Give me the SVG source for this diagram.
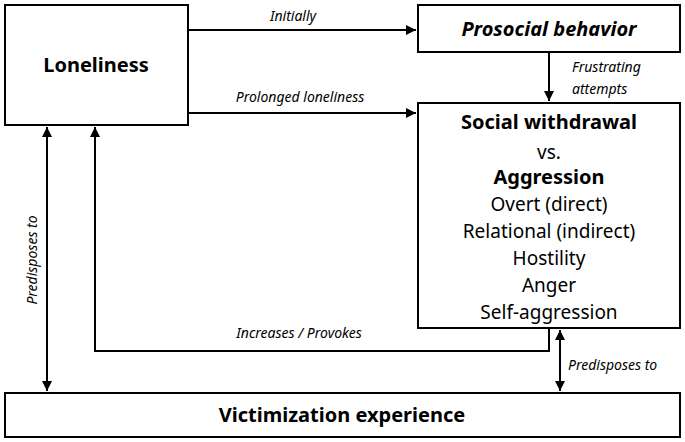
<svg xmlns="http://www.w3.org/2000/svg" width="685" height="442" viewBox="0 0 685 442">
<defs>
<marker id="ah" viewBox="0 0 10 10" refX="10" refY="5" markerWidth="5" markerHeight="5" orient="auto-start-reverse"><path d="M0,0 L10,5 L0,10 z" fill="#000"/></marker>
<style>
.box{fill:#fff;stroke:#000;stroke-width:2}
.ln{fill:none;stroke:#000;stroke-width:2}
text{font-family:"Noto Sans",Inter,"Liberation Sans",sans-serif;fill:#000}
.lab{font-size:14px;font-style:italic}
.big{font-size:20px;font-weight:bold}
.t{font-size:19px}
</style>
</defs>
<g id="connectors">
<path class="ln" d="M188,30 H416" marker-end="url(#ah)"/>
<path class="ln" d="M188,113 H416" marker-end="url(#ah)"/>
<path class="ln" d="M549,52 V101" marker-end="url(#ah)"/>
<path class="ln" d="M47,127 V391" marker-start="url(#ah)" marker-end="url(#ah)"/>
<path class="ln" d="M549,328 V351 H95 V127" marker-end="url(#ah)"/>
<path class="ln" d="M560,330 V391" marker-start="url(#ah)" marker-end="url(#ah)"/>
<text class="lab" x="293" y="21" text-anchor="middle">Initially</text>
<text class="lab" x="300" y="102" text-anchor="middle">Prolonged loneliness</text>
<text class="lab" x="572" y="72">Frustrating</text>
<text class="lab" x="572" y="94">attempts</text>
<text class="lab" x="299" y="338" text-anchor="middle">Increases / Provokes</text>
<text class="lab" x="568" y="370">Predisposes to</text>
<text class="lab" transform="translate(37,260) rotate(-90)" text-anchor="middle">Predisposes to</text>
</g>
<g id="loneliness"><rect class="box" x="5" y="5" width="183" height="120"/><text class="big" x="96" y="72" text-anchor="middle">Loneliness</text></g>
<g id="prosocial"><rect class="box" x="418" y="5" width="262" height="47"/><text class="big" x="549" y="36" text-anchor="middle" font-style="italic">Prosocial behavior</text></g>
<g id="withdrawal"><rect class="box" x="418" y="103" width="262" height="225"/>
<text class="big" x="549" y="129" text-anchor="middle">Social withdrawal</text>
<text class="t" x="549" y="159" text-anchor="middle">vs.</text>
<text class="big" x="549" y="184" text-anchor="middle">Aggression</text>
<text class="t" x="549" y="211" text-anchor="middle">Overt (direct)</text>
<text class="t" x="549" y="238" text-anchor="middle">Relational (indirect)</text>
<text class="t" x="549" y="265" text-anchor="middle">Hostility</text>
<text class="t" x="549" y="292" text-anchor="middle">Anger</text>
<text class="t" x="549" y="319" text-anchor="middle">Self-aggression</text>
</g>
<g id="victimization"><rect class="box" x="5" y="393" width="675" height="44"/><text class="big" x="342" y="422" text-anchor="middle">Victimization experience</text></g>
</svg>
